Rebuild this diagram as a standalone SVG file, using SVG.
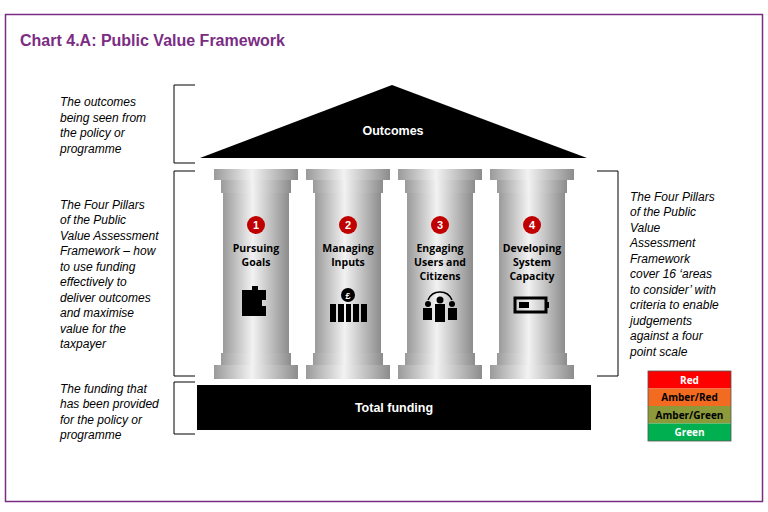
<svg xmlns="http://www.w3.org/2000/svg" width="768" height="512" viewBox="0 0 768 512">
<style>
.t{font-family:"Liberation Sans",Arial,sans-serif;font-size:12px;font-style:italic;fill:#000}
.pl{font-family:"Open Sans","Liberation Sans",sans-serif;font-size:10.5px;font-weight:bold;fill:#000;text-anchor:middle}
.n{font-family:"Liberation Sans",sans-serif;font-size:11px;font-weight:bold;fill:#fff;text-anchor:middle}
.br{fill:none;stroke:#000;stroke-width:1}
.lg{font-family:"Open Sans","Liberation Sans",sans-serif;font-size:10px;font-weight:bold;text-anchor:middle}
</style>
<defs>
<linearGradient id="g" x1="0" x2="1" y1="0" y2="0">
<stop offset="0" stop-color="#9a9a9a"/><stop offset="0.45" stop-color="#f2f2f2"/><stop offset="1" stop-color="#8c8c8c"/>
</linearGradient>
<g id="pillar">
<rect x="0" y="0" width="84" height="11" fill="url(#g)"/>
<rect x="7" y="11" width="70" height="13" fill="url(#g)"/>
<rect x="9" y="24" width="66" height="160" fill="url(#g)"/>
<rect x="7" y="184" width="70" height="12" fill="url(#g)"/>
<rect x="0" y="196" width="84" height="14" fill="url(#g)"/>
</g>
</defs>
<rect width="768" height="512" fill="#fff"/>
<rect x="5.5" y="14.5" width="757" height="487" fill="none" stroke="#7b2c83" stroke-width="1.5"/>
<text x="20" y="46" font-family="Liberation Sans,Arial,sans-serif" font-size="16" font-weight="bold" fill="#7b2c83">Chart 4.A: Public Value Framework</text>
<g id="roof"><polygon points="392,85 587,158 200,158" fill="#000"/>
<text x="393" y="135" text-anchor="middle" font-family="Liberation Sans,sans-serif" font-size="12.5" font-weight="bold" fill="#fff">Outcomes</text></g>
<g id="p1"><use href="#pillar" x="214" y="169"/><circle cx="256" cy="225" r="9" fill="#c00000"/><text class="n" x="256" y="229">1</text>
<text class="pl" x="256" y="252">Pursuing</text><text class="pl" x="256" y="266">Goals</text>
<path d="M242,290h10v-4h6v4h8v10h-4v6h4v10h-24z" fill="#000"/></g>
<g id="p2"><use href="#pillar" x="306" y="169"/><circle cx="348" cy="225" r="9" fill="#c00000"/><text class="n" x="348" y="229">2</text>
<text class="pl" x="348" y="252">Managing</text><text class="pl" x="348" y="266">Inputs</text>
<circle cx="348" cy="295" r="7" fill="#000"/><text x="348" y="299" font-family="Liberation Sans" font-size="9" font-weight="bold" fill="#fff" text-anchor="middle">£</text>
<rect x="330" y="304" width="6" height="18"/><rect x="338" y="304" width="6" height="18"/><rect x="346" y="304" width="5" height="18"/><rect x="353" y="304" width="6" height="18"/><rect x="361" y="304" width="6" height="18"/></g>
<g id="p3"><use href="#pillar" x="398" y="169"/><circle cx="440" cy="225" r="9" fill="#c00000"/><text class="n" x="440" y="229">3</text>
<text class="pl" x="440" y="252">Engaging</text><text class="pl" x="440" y="266">Users and</text><text class="pl" x="440" y="280">Citizens</text>
<path d="M428,300a13,13 0 0 1 24,0" fill="none" stroke="#000" stroke-width="1.5"/>
<circle cx="440" cy="300" r="3.5"/><rect x="435" y="304" width="10" height="18"/>
<circle cx="428" cy="304" r="3"/><rect x="423" y="308" width="9" height="12"/>
<circle cx="452" cy="304" r="3"/><rect x="448" y="308" width="9" height="12"/></g>
<g id="p4"><use href="#pillar" x="490" y="169"/><circle cx="532" cy="225" r="9" fill="#c00000"/><text class="n" x="532" y="229">4</text>
<text class="pl" x="532" y="252">Developing</text><text class="pl" x="532" y="266">System</text><text class="pl" x="532" y="280">Capacity</text>
<rect x="515" y="298" width="31" height="14" fill="none" stroke="#000" stroke-width="3"/><rect x="546" y="302" width="3" height="6"/><rect x="519" y="302" width="10" height="6"/></g>
<g id="funding"><rect x="197" y="385" width="394" height="45" fill="#000"/>
<text x="394" y="412" text-anchor="middle" font-family="Liberation Sans,sans-serif" font-size="12.5" font-weight="bold" fill="#fff">Total funding</text></g>
<g id="connectors">
<path class="br" d="M195,85H174V163H195"/>
<path class="br" d="M195,171H174V376H195"/>
<path class="br" d="M195,382H174V434H195"/>
<path class="br" d="M597,171H618V376H597"/>
</g>
<g id="leftlabels">
<text class="t" x="60" y="106">The outcomes</text><text class="t" x="60" y="122">being seen from</text><text class="t" x="60" y="137">the policy or</text><text class="t" x="60" y="153">programme</text>
<text class="t" x="60" y="209">The Four Pillars</text><text class="t" x="60" y="224">of the Public</text><text class="t" x="60" y="240">Value Assessment</text><text class="t" x="60" y="255">Framework – how</text><text class="t" x="60" y="271">to use funding</text><text class="t" x="60" y="286">effectively to</text><text class="t" x="60" y="302">deliver outcomes</text><text class="t" x="60" y="317">and maximise</text><text class="t" x="60" y="333">value for the</text><text class="t" x="60" y="348">taxpayer</text>
<text class="t" x="60" y="393">The funding that</text><text class="t" x="60" y="408">has been provided</text><text class="t" x="60" y="424">for the policy or</text><text class="t" x="60" y="439">programme</text>
</g>
<g id="rightlabels">
<text class="t" x="630" y="201">The Four Pillars</text><text class="t" x="630" y="216">of the Public</text><text class="t" x="630" y="232">Value</text><text class="t" x="630" y="247">Assessment</text><text class="t" x="630" y="263">Framework</text><text class="t" x="630" y="278">cover 16 ‘areas</text><text class="t" x="630" y="294">to consider’ with</text><text class="t" x="630" y="309">criteria to enable</text><text class="t" x="630" y="325">judgements</text><text class="t" x="630" y="340">against a four</text><text class="t" x="630" y="356">point scale</text>
</g>
<g id="legend">
<rect x="648" y="371" width="83" height="17.5" fill="#ff0000"/>
<rect x="648" y="388.5" width="83" height="17.5" fill="#f26b21"/>
<rect x="648" y="406" width="83" height="17.5" fill="#8c9a3a"/>
<rect x="648" y="423.5" width="83" height="17.5" fill="#00b050"/>
<rect x="648" y="371" width="83" height="70" fill="none" stroke="#555" stroke-width="0.8"/>
<text class="lg" x="689.5" y="384" fill="#fff">Red</text>
<text class="lg" x="689.5" y="401" fill="#000">Amber/Red</text>
<text class="lg" x="689.5" y="419" fill="#000">Amber/Green</text>
<text class="lg" x="689.5" y="436" fill="#fff">Green</text>
</g>
</svg>
